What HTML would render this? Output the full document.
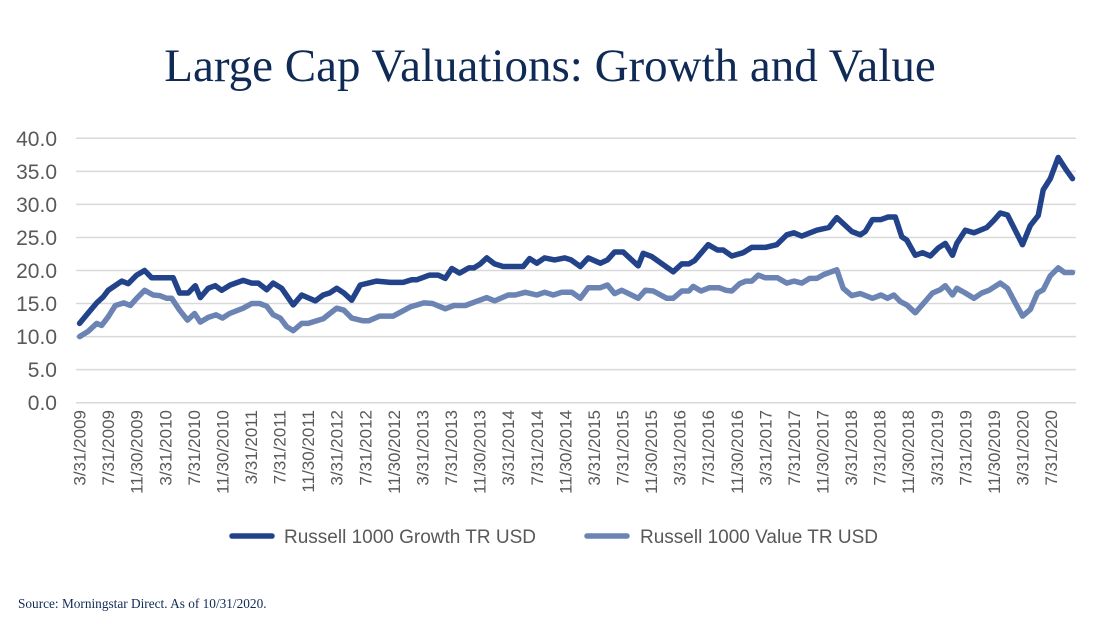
<!DOCTYPE html>
<html><head><meta charset="utf-8"><style>
body{margin:0;background:#fff;width:1100px;height:628px;overflow:hidden}
</style></head><body>
<svg id="s" width="1100" height="628" xmlns="http://www.w3.org/2000/svg" font-family="Liberation Sans, sans-serif">
<text x="550" y="81" text-anchor="middle" font-family="Liberation Serif, serif" font-size="47" fill="#0f2a55">Large Cap Valuations: Growth and Value</text>
<g id="grid"></g><g id="lab"></g>
<line x1="232" y1="536" x2="272" y2="536" stroke="#22428a" stroke-width="5.5" stroke-linecap="round"/>
<text x="284" y="543" font-size="19" fill="#595959">Russell 1000 Growth TR USD</text>
<line x1="587" y1="536" x2="627" y2="536" stroke="#6b84b4" stroke-width="5.5" stroke-linecap="round"/>
<text x="640" y="543" font-size="19" fill="#595959">Russell 1000 Value TR USD</text>
<text x="18" y="608" font-family="Liberation Serif, serif" font-size="13.3" fill="#0f2a55">Source: Morningstar Direct. As of 10/31/2020.</text>
</svg>
<script>
function X(i){return 79.6+7.143*i}function Y(v){return 402.7-6.61*v}
var g=document.getElementById('grid'),h='';
for(var k=0;k<=8;k++){var y=Y(k*5);h+='<line x1="76" x2="1076" y1="'+y+'" y2="'+y+'" stroke="#d9d9d9" stroke-width="1.5"/>';
h+='<text x="57" y="'+(y+7.5)+'" text-anchor="end" font-size="21" fill="#595959">'+(k*5).toFixed(1)+'</text>';}
var m=['3/31/','7/31/','11/30/'];
for(var k=0;k<35;k++){var x=X(4*k)+6,yr=2009+Math.floor(k/3);
h+='<text transform="translate('+x+',410) rotate(-90)" text-anchor="end" font-size="17" fill="#595959">'+m[k%3]+yr+'</text>';}
var G=[[0,12],[1,13.3],[2.4,15.1],[3.3,16],[4,17],[5.9,18.4],[6.8,18],[8,19.3],[9.1,20],[10.1,18.9],[13.1,18.9],[14,16.6],[15.2,16.6],[16.2,17.7],[16.9,15.9],[18,17.3],[19,17.7],[19.9,17],[21.1,17.8],[22.9,18.5],[24.1,18.1],[25,18.1],[26.2,17.1],[27.1,18.1],[28.3,17.3],[29.9,14.8],[31.1,16.3],[33,15.4],[34.1,16.3],[35,16.6],[36,17.3],[37,16.6],[38.1,15.5],[39.3,17.8],[41.6,18.4],[43.5,18.2],[45.3,18.2],[46.5,18.6],[47.2,18.6],[49,19.3],[50.2,19.3],[51.2,18.8],[52.1,20.3],[53.2,19.6],[54.5,20.4],[55.2,20.4],[56.1,21],[57,21.9],[58.1,21],[59.3,20.6],[62.1,20.6],[63,21.8],[64,21.1],[65.1,21.9],[66.5,21.6],[67.9,21.9],[68.8,21.6],[70.1,20.6],[71.2,21.9],[72.9,21.1],[73.9,21.6],[74.9,22.8],[76.1,22.8],[78.2,20.7],[78.9,22.6],[80.1,22.1],[83.1,19.8],[84.3,21],[85.3,21],[86.1,21.5],[88,23.9],[89.3,23.1],[90.1,23.1],[91.3,22.2],[92.9,22.7],[94.1,23.5],[96,23.5],[97.6,23.9],[99,25.4],[100,25.7],[101.1,25.2],[103.2,26.1],[104.9,26.5],[106,28],[108.1,25.9],[109.3,25.4],[110,25.9],[111,27.7],[112.2,27.7],[113.2,28.1],[114.2,28.1],[115.1,25.1],[115.8,24.6],[117,22.3],[118,22.7],[119.1,22.2],[120.2,23.4],[121.2,24.1],[122.2,22.3],[122.8,24.1],[124,26.1],[125.2,25.7],[127,26.5],[128,27.6],[128.9,28.7],[129.9,28.4],[132,23.9],[133.1,26.8],[134.2,28.3],[134.9,32.2],[135.9,33.9],[137,37.1],[138.2,35.1],[139,33.9]];
var V=[[0,10],[1.2,10.8],[2.4,12],[3.1,11.7],[4,13],[5,14.7],[6.2,15.1],[7.1,14.7],[8,15.8],[9.1,17],[10.3,16.3],[11.2,16.2],[12.2,15.8],[12.9,15.8],[14,14],[15.1,12.5],[16.1,13.5],[16.9,12.2],[18,12.9],[19.1,13.3],[20,12.8],[21,13.5],[22.9,14.3],[24.1,15],[25.2,15],[26.2,14.6],[27.1,13.3],[28.1,12.8],[29,11.5],[29.9,10.9],[31.1,12],[32,12],[34.1,12.7],[34.8,13.3],[36,14.3],[37,14],[38.1,12.8],[39.6,12.4],[40.5,12.4],[42,13.1],[43.9,13.1],[46.3,14.5],[48.2,15.1],[49.4,15],[51.2,14.2],[52.4,14.7],[54,14.7],[57,15.9],[58.1,15.4],[60,16.3],[61,16.3],[62.4,16.7],[64,16.3],[65.1,16.7],[66.3,16.3],[67.5,16.7],[68.9,16.7],[70.1,15.8],[71.2,17.4],[72.9,17.4],[73.9,17.8],[74.9,16.5],[75.9,17],[78.2,15.8],[79.2,17],[80.3,16.9],[82.2,15.8],[83.1,15.8],[84.3,16.9],[85.3,16.9],[85.9,17.6],[87,16.9],[88.2,17.4],[89.5,17.4],[90.5,17],[91.3,16.9],[92.4,18],[93.3,18.4],[94.1,18.4],[95,19.3],[96,18.9],[97.7,18.9],[99,18.1],[100,18.4],[101.1,18.1],[102.2,18.8],[103.2,18.8],[104.2,19.4],[106,20.1],[106.9,17.3],[108.1,16.2],[109.3,16.5],[111,15.8],[112.2,16.3],[113.1,15.8],[114,16.3],[114.9,15.3],[115.8,14.8],[117,13.6],[118.2,15.1],[119.4,16.6],[120.5,17.1],[121.2,17.7],[122.2,16.3],[122.8,17.3],[124,16.6],[125.2,15.8],[126.3,16.6],[127.3,17],[128.9,18.1],[129.9,17.3],[131,15.1],[132,13.1],[133.1,14.1],[134.1,16.6],[134.9,17.1],[135.9,19.2],[137,20.4],[137.9,19.7],[139,19.7]];
function pl(d,c){return '<polyline fill="none" stroke="'+c+'" stroke-width="5.5" stroke-linejoin="round" stroke-linecap="round" points="'+d.map(function(p){return X(p[0]).toFixed(1)+','+Y(p[1]).toFixed(1)}).join(' ')+'"/>';}
h+=pl(V,'#6b84b4')+pl(G,'#22428a');
g.innerHTML=h;
</script>
</body></html>
